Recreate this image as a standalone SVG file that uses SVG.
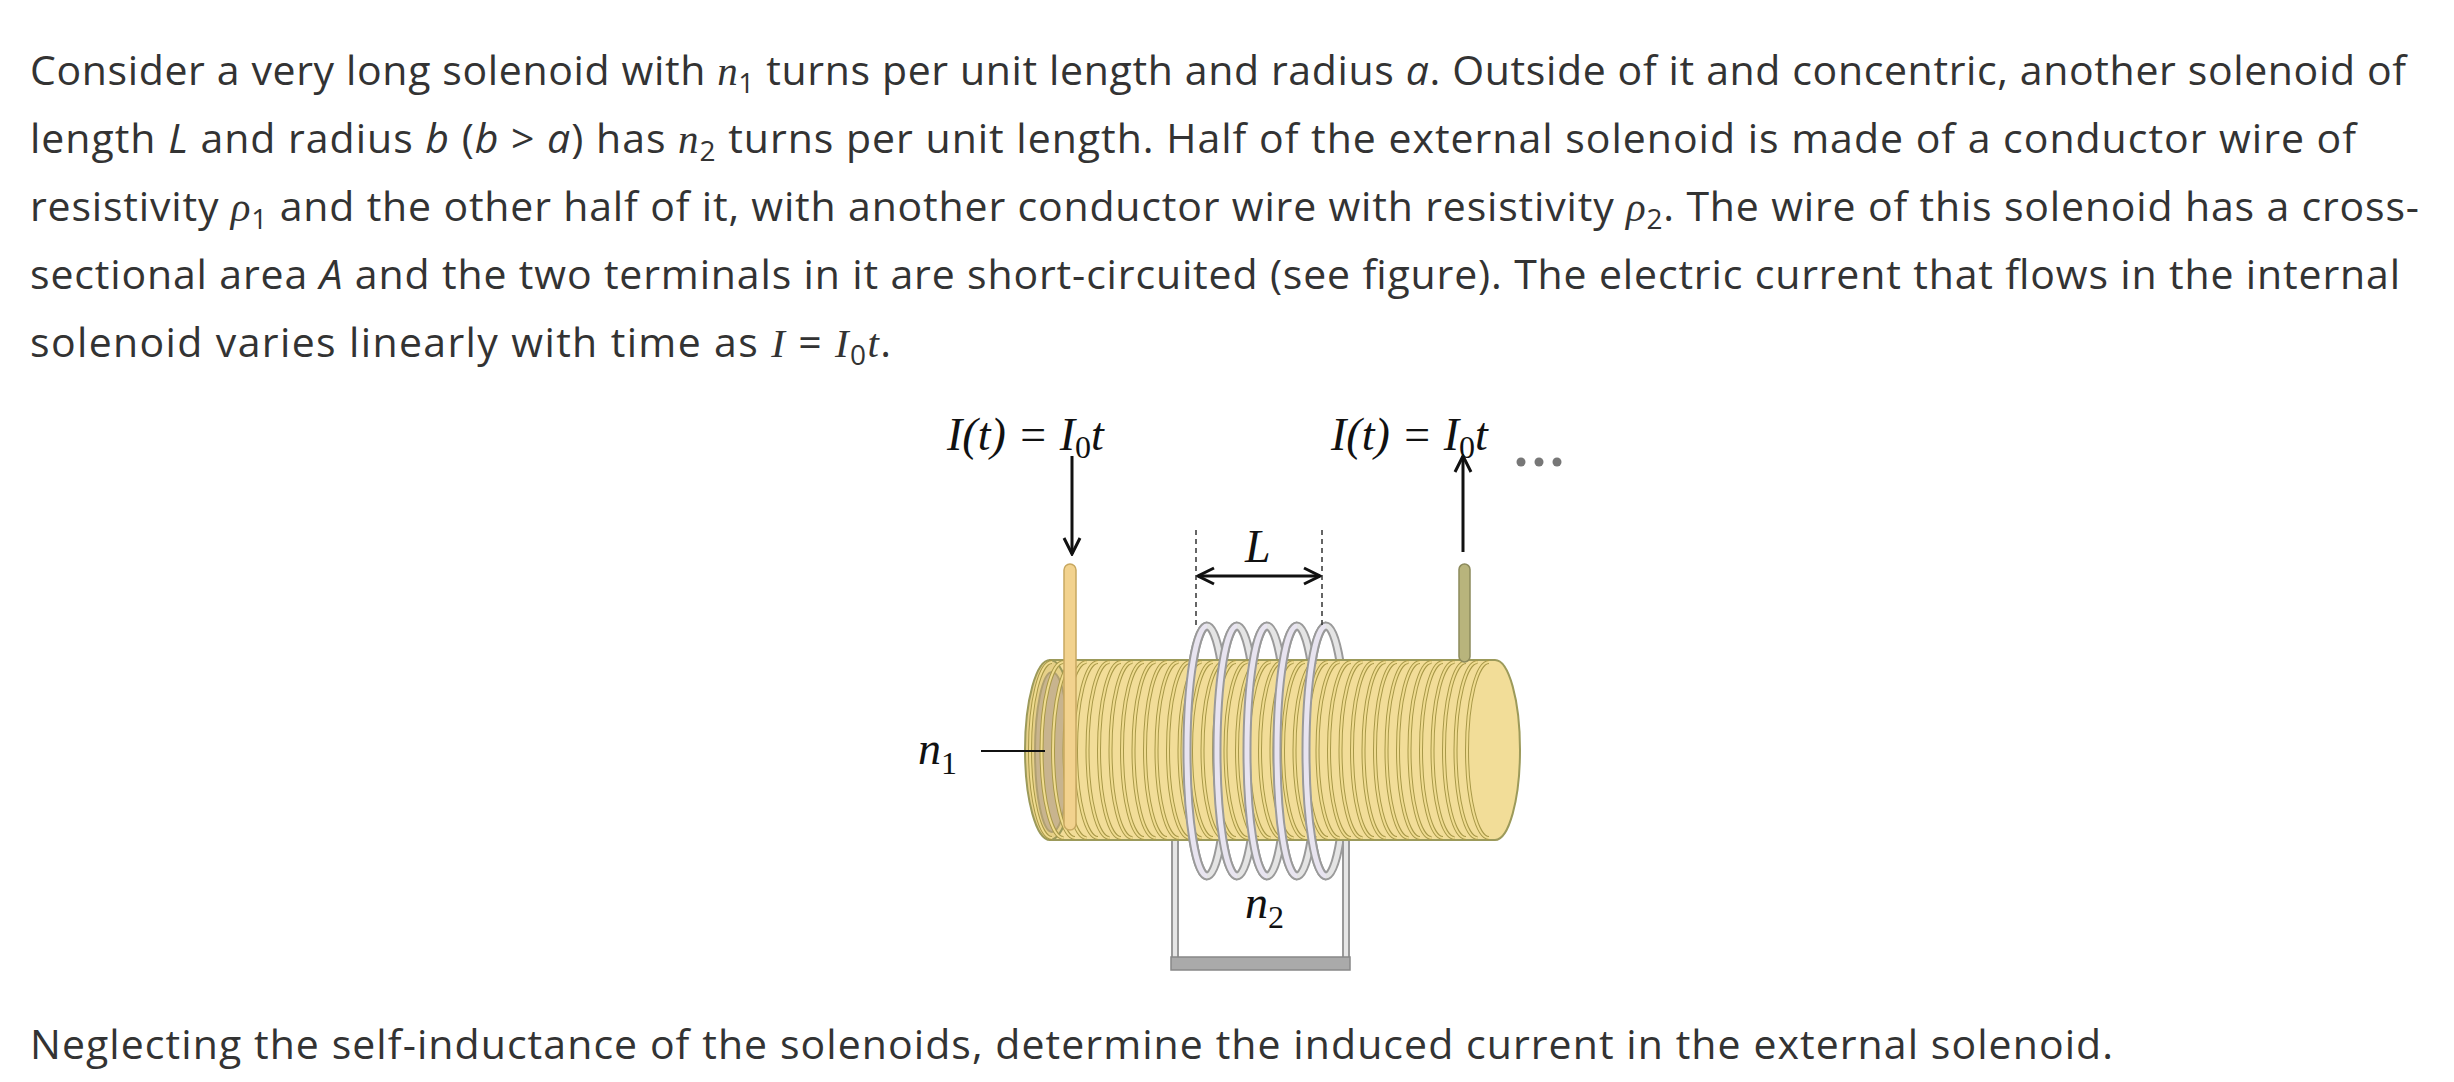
<svg xmlns="http://www.w3.org/2000/svg" width="2454" height="1082" viewBox="0 0 2454 1082">
<style>
.t{font-family:"Open Sans","Liberation Sans",sans-serif;font-size:41px;fill:#333}
.i{font-style:italic}
.m{font-family:"Liberation Serif",serif;font-style:italic}
.s{font-size:28px}
.f{font-family:"Liberation Serif",serif;font-style:italic;font-size:46px;fill:#111}
.fs{font-size:32px;font-style:normal}
.ln{stroke:#111;stroke-width:3;fill:none}
</style>
<defs>
<marker id="ah" viewBox="0 0 20 20" refX="18" refY="10" markerWidth="20" markerHeight="20" markerUnits="userSpaceOnUse" orient="auto-start-reverse">
<path d="M2 2L18 10L2 18" fill="none" stroke="#111" stroke-width="3"/>
</marker>
</defs>
<g id="text">
<text class="t" x="30" y="85" textLength="2376">Consider a very long solenoid with <tspan class="m">n</tspan><tspan class="s" dy="8">1</tspan><tspan dy="-8"> turns per unit length and radius </tspan><tspan class="i">a</tspan>. Outside of it and concentric, another solenoid of</text>
<text class="t" x="30" y="153" textLength="2326">length <tspan class="i">L</tspan> and radius <tspan class="i">b</tspan> (<tspan class="i">b</tspan> &gt; <tspan class="i">a</tspan>) has <tspan class="m">n</tspan><tspan class="s" dy="8">2</tspan><tspan dy="-8"> turns per unit length. Half of the external solenoid is made of a conductor wire of</tspan></text>
<text class="t" x="30" y="221" textLength="2389">resistivity <tspan class="m">ρ</tspan><tspan class="s" dy="8">1</tspan><tspan dy="-8"> and the other half of it, with another conductor wire with resistivity </tspan><tspan class="m">ρ</tspan><tspan class="s" dy="8">2</tspan><tspan dy="-8">. The wire of this solenoid has a cross-</tspan></text>
<text class="t" x="30" y="289" textLength="2370">sectional area <tspan class="i">A</tspan> and the two terminals in it are short-circuited (see figure). The electric current that flows in the internal</text>
<text class="t" x="30" y="357" textLength="861">solenoid varies linearly with time as <tspan class="m">I</tspan> = <tspan class="m">I</tspan><tspan class="s" dy="8">0</tspan><tspan class="m" dy="-8">t</tspan>.</text>
<text class="t" x="30" y="1059" textLength="2083">Neglecting the self-inductance of the solenoids, determine the induced current in the external solenoid.</text>
</g>
<g id="rings-back" fill="none">
<g stroke="#9a9a9a" stroke-width="9">
<ellipse cx="1207" cy="751" rx="20" ry="125"/><ellipse cx="1237" cy="751" rx="20" ry="125"/><ellipse cx="1267" cy="751" rx="20" ry="125"/><ellipse cx="1297" cy="751" rx="20" ry="125"/><ellipse cx="1326" cy="751" rx="20" ry="125"/>
</g>
<g stroke="#e4e4e4" stroke-width="5">
<ellipse cx="1207" cy="751" rx="20" ry="125"/><ellipse cx="1237" cy="751" rx="20" ry="125"/><ellipse cx="1267" cy="751" rx="20" ry="125"/><ellipse cx="1297" cy="751" rx="20" ry="125"/><ellipse cx="1326" cy="751" rx="20" ry="125"/>
</g>
</g>
<g id="frame">
<path d="M1175 840V962M1346 840V962" stroke="#999" stroke-width="8" fill="none"/>
<path d="M1175 840V962M1346 840V962" stroke="#e6e6e6" stroke-width="4" fill="none"/>
<rect x="1171" y="957" width="179" height="13" fill="#aaa" stroke="#888" stroke-width="1.5"/>
</g>
<g id="solenoid1">
<path d="M1050 660H1495A25 90 0 0 1 1495 840H1050Z" fill="#f2dd98" stroke="#9c9a5a" stroke-width="2"/>
<ellipse cx="1050" cy="750" rx="25" ry="90" fill="#e6d088" stroke="#9c9a5a" stroke-width="2"/>
<ellipse cx="1052" cy="752" rx="17" ry="80" fill="#c8b48e" stroke="#b0a070" stroke-width="2"/>
<path d="M1052 662a22 88 0 0 0 0 176M1063.5 662a22 88 0 0 0 0 176M1075 662a22 88 0 0 0 0 176M1086.5 662a22 88 0 0 0 0 176M1098 662a22 88 0 0 0 0 176M1109.5 662a22 88 0 0 0 0 176M1121 662a22 88 0 0 0 0 176M1132.5 662a22 88 0 0 0 0 176M1144 662a22 88 0 0 0 0 176M1155.5 662a22 88 0 0 0 0 176M1167 662a22 88 0 0 0 0 176M1178.5 662a22 88 0 0 0 0 176M1190 662a22 88 0 0 0 0 176M1201.5 662a22 88 0 0 0 0 176M1213 662a22 88 0 0 0 0 176M1224.5 662a22 88 0 0 0 0 176M1236 662a22 88 0 0 0 0 176M1247.5 662a22 88 0 0 0 0 176M1259 662a22 88 0 0 0 0 176M1270.5 662a22 88 0 0 0 0 176M1282 662a22 88 0 0 0 0 176M1293.5 662a22 88 0 0 0 0 176M1305 662a22 88 0 0 0 0 176M1316.5 662a22 88 0 0 0 0 176M1328 662a22 88 0 0 0 0 176M1339.5 662a22 88 0 0 0 0 176M1351 662a22 88 0 0 0 0 176M1362.5 662a22 88 0 0 0 0 176M1374 662a22 88 0 0 0 0 176M1385.5 662a22 88 0 0 0 0 176M1397 662a22 88 0 0 0 0 176M1408.5 662a22 88 0 0 0 0 176M1420 662a22 88 0 0 0 0 176M1431.5 662a22 88 0 0 0 0 176M1443 662a22 88 0 0 0 0 176M1454.5 662a22 88 0 0 0 0 176M1466 662a22 88 0 0 0 0 176M1477.5 662a22 88 0 0 0 0 176M1489 662a22 88 0 0 0 0 176" fill="none" stroke="#a89848" stroke-width="4"/>
<path d="M1052 662a22 88 0 0 0 0 176M1063.5 662a22 88 0 0 0 0 176M1075 662a22 88 0 0 0 0 176M1086.5 662a22 88 0 0 0 0 176M1098 662a22 88 0 0 0 0 176M1109.5 662a22 88 0 0 0 0 176M1121 662a22 88 0 0 0 0 176M1132.5 662a22 88 0 0 0 0 176M1144 662a22 88 0 0 0 0 176M1155.5 662a22 88 0 0 0 0 176M1167 662a22 88 0 0 0 0 176M1178.5 662a22 88 0 0 0 0 176M1190 662a22 88 0 0 0 0 176M1201.5 662a22 88 0 0 0 0 176M1213 662a22 88 0 0 0 0 176M1224.5 662a22 88 0 0 0 0 176M1236 662a22 88 0 0 0 0 176M1247.5 662a22 88 0 0 0 0 176M1259 662a22 88 0 0 0 0 176M1270.5 662a22 88 0 0 0 0 176M1282 662a22 88 0 0 0 0 176M1293.5 662a22 88 0 0 0 0 176M1305 662a22 88 0 0 0 0 176M1316.5 662a22 88 0 0 0 0 176M1328 662a22 88 0 0 0 0 176M1339.5 662a22 88 0 0 0 0 176M1351 662a22 88 0 0 0 0 176M1362.5 662a22 88 0 0 0 0 176M1374 662a22 88 0 0 0 0 176M1385.5 662a22 88 0 0 0 0 176M1397 662a22 88 0 0 0 0 176M1408.5 662a22 88 0 0 0 0 176M1420 662a22 88 0 0 0 0 176M1431.5 662a22 88 0 0 0 0 176M1443 662a22 88 0 0 0 0 176M1454.5 662a22 88 0 0 0 0 176M1466 662a22 88 0 0 0 0 176M1477.5 662a22 88 0 0 0 0 176M1489 662a22 88 0 0 0 0 176" fill="none" stroke="#f0dc90" stroke-width="2"/>
<rect x="1064" y="564" width="12" height="266" rx="6" fill="#f2d28e" stroke="#c8a860" stroke-width="1.5"/>
<rect x="1459" y="564" width="11" height="98" rx="5.5" fill="#b8b47c" stroke="#8c8a5c" stroke-width="1.5"/>
</g>
<g id="rings-front" fill="none">
<path d="M1207 626A20 125 0 0 0 1207 876M1237 626A20 125 0 0 0 1237 876M1267 626A20 125 0 0 0 1267 876M1297 626A20 125 0 0 0 1297 876M1326 626A20 125 0 0 0 1326 876" stroke="#9a9a9a" stroke-width="9"/>
<path d="M1207 626A20 125 0 0 0 1207 876M1237 626A20 125 0 0 0 1237 876M1267 626A20 125 0 0 0 1267 876M1297 626A20 125 0 0 0 1297 876M1326 626A20 125 0 0 0 1326 876" stroke="#e8e4f0" stroke-width="5"/>
</g>
<g id="labels">
<text class="f" x="947" y="450">I(t) = I<tspan class="fs" dy="8">0</tspan><tspan dy="-8">t</tspan></text>
<text class="f" x="1331" y="450">I(t) = I<tspan class="fs" dy="8">0</tspan><tspan dy="-8">t</tspan></text>
<g fill="#777"><circle cx="1521" cy="462" r="4.5"/><circle cx="1539" cy="462" r="4.5"/><circle cx="1557" cy="462" r="4.5"/></g>
<text class="f" x="1245" y="562">L</text>
<text class="f" x="918" y="764">n<tspan class="fs" dy="10">1</tspan></text>
<text class="f" x="1245" y="918">n<tspan class="fs" dy="10">2</tspan></text>
</g>
<g id="connectors">
<path class="ln" d="M1072 456V554" marker-end="url(#ah)"/>
<path class="ln" d="M1463 552V456" marker-end="url(#ah)"/>
<path class="ln" d="M1198 576H1320" marker-start="url(#ah)" marker-end="url(#ah)"/>
<path d="M1196 530V628M1322 530V628" stroke="#333" stroke-width="1.5" stroke-dasharray="5 4" fill="none"/>
<path d="M981 751H1045" stroke="#111" stroke-width="2" fill="none"/>
</g>
</svg>
